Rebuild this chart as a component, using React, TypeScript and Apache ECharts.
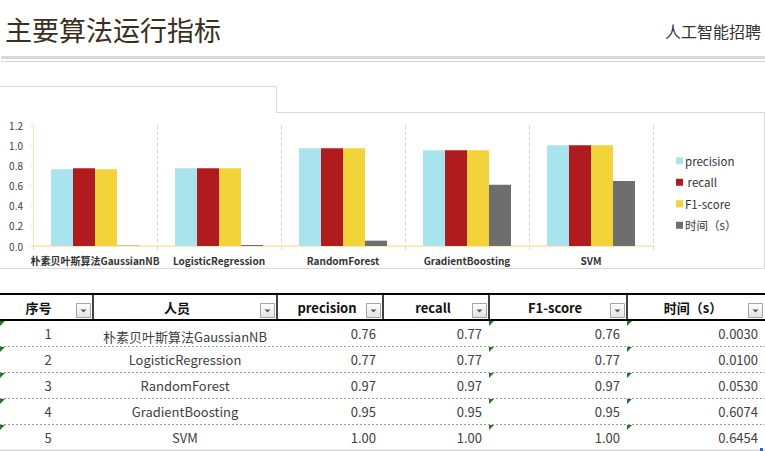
import React, { useEffect, useRef } from "react";
import * as echarts from "echarts";

const algorithms = [
  "朴素贝叶斯算法GaussianNB",
  "LogisticRegression",
  "RandomForest",
  "GradientBoosting",
  "SVM",
];
const precision = [0.76, 0.77, 0.97, 0.95, 1.0];
const recall = [0.77, 0.77, 0.97, 0.95, 1.0];
const f1Score = [0.76, 0.77, 0.97, 0.95, 1.0];
const timeSec = [0.003, 0.01, 0.053, 0.6074, 0.6454];
const seriesNames = ["precision", "recall", "F1-score", "时间（s）"];
const seriesColors = ["#a9e3ee", "#b01b1f", "#f2d33a", "#6e6e6e"];
const tableHeaders = ["序号", "人员", "precision", "recall", "F1-score", "时间（s）"];

const FONT = "'Noto Sans CJK SC', 'Noto Sans', sans-serif";

// table layout
const colEdges = [0, 93, 277, 383, 489, 627, 765];
const headTop = 294;
const headBottom = 320;
const rowH = 26;

const txt = (
  text: string,
  x: number,
  y: number,
  size: number,
  color: string,
  align: string,
  weight: string = "normal"
) => ({
  type: "text",
  x,
  y,
  silent: true,
  style: {
    text,
    fill: color,
    fontSize: size,
    fontFamily: FONT,
    fontWeight: weight,
    align,
    textAlign: align,
    verticalAlign: "middle",
    textVerticalAlign: "middle",
  },
});

const buildTable = () => {
  const els: any[] = [];
  // header borders
  els.push({ type: "line", shape: { x1: 0, y1: headTop, x2: 765, y2: headTop }, style: { stroke: "#000", lineWidth: 2 } });
  els.push({ type: "line", shape: { x1: 0, y1: headBottom, x2: 765, y2: headBottom }, style: { stroke: "#000", lineWidth: 2 } });
  colEdges.slice(1, -1).forEach((x) => {
    els.push({ type: "line", shape: { x1: x, y1: headTop, x2: x, y2: headBottom }, style: { stroke: "#000", lineWidth: 1.5 } });
  });
  tableHeaders.forEach((h, i) => {
    const l = colEdges[i];
    const r = colEdges[i + 1];
    const cx = i < 2 ? (l + r - 16) / 2 : (l + r - 18) / 2 + 6;
    els.push(txt(h, cx, 307, 13, "#111", "center", "bold"));
    // dropdown button
    els.push({
      type: "rect",
      shape: { x: r - 16.5, y: 303.5, width: 14, height: 14 },
      style: {
        fill: new echarts.graphic.LinearGradient(0, 0, 0, 1, [
          { offset: 0, color: "#ffffff" },
          { offset: 1, color: "#e3e3e3" },
        ]),
        stroke: "#a6a6a6",
        lineWidth: 1,
      },
    });
    const bx = r - 9.5;
    els.push({
      type: "polygon",
      shape: { points: [[bx - 3, 309.5], [bx + 3, 309.5], [bx, 312.5]] },
      style: { fill: "#595959" },
    });
  });
  // rows
  algorithms.forEach((name, i) => {
    const top = headBottom + i * rowH;
    const cy = top + 13;
    const cells = [
      String(i + 1),
      name,
      precision[i].toFixed(2),
      recall[i].toFixed(2),
      f1Score[i].toFixed(2),
      timeSec[i].toFixed(4),
    ];
    cells.forEach((c, j) => {
      const r = colEdges[j + 1];
      if (j === 0) els.push(txt(c, 48, cy, 13, "#404040", "center"));
      else if (j === 1) els.push(txt(c, 185, cy + (i === 0 ? 3 : 0), 13, "#404040", "center"));
      else els.push(txt(c, r - 7, cy, 13, "#404040", "right"));
    });
    if (i > 0) {
      els.push({
        type: "line",
        shape: { x1: 0, y1: top + 0.5, x2: 765, y2: top + 0.5 },
        style: { stroke: "#9a9a9a", lineWidth: 1, lineDash: [2, 2] },
      });
    }
    [0, 489, 627].forEach((x) => {
      els.push({
        type: "polygon",
        shape: { points: [[x, top + 1], [x + 5, top + 1], [x, top + 6]] },
        style: { fill: "#1f7a1f" },
      });
    });
  });
  const bottom = headBottom + algorithms.length * rowH;
  els.push({ type: "line", shape: { x1: 0, y1: bottom + 0.5, x2: 765, y2: bottom + 0.5 }, style: { stroke: "#d4d4d4", lineWidth: 1.5 } });
  els.push({ type: "rect", shape: { x: 760, y: bottom - 2, width: 3, height: 3 }, style: { fill: "#3b5fc0" } });
  return els;
};

const App: React.FC = () => {
  const chartRef = useRef<HTMLDivElement>(null);

  useEffect(() => {
    const chart = echarts.init(chartRef.current!, undefined, { renderer: "svg" });
    const values = [precision, recall, f1Score, timeSec];

    const option: any = {
      animation: false,
      backgroundColor: "#ffffff",
      textStyle: { fontFamily: FONT },
      legend: {
        orient: "vertical",
        left: 671,
        top: 150,
        itemWidth: 7,
        itemHeight: 7,
        itemGap: 10,
        icon: "rect",
        textStyle: { fontSize: 11.5, color: "#333", padding: [0, 0, 0, -3] },
        formatter: (name: string) => (name === "recall" ? " recall" : name),
        data: seriesNames,
      },
      grid: { left: 33, right: 112, top: 125, bottom: 205, containLabel: false },
      xAxis: {
        type: "category",
        data: algorithms,
        axisLine: { lineStyle: { color: "#fcebb8", width: 2 } },
        axisTick: { show: true, length: 5, lineStyle: { color: "#d9d9d9", type: "dashed" } },
        splitLine: { show: true, lineStyle: { color: "#d9d9d9", type: "dashed" } },
        axisLabel: {
          interval: 0,
          fontSize: 10,
          fontWeight: "bold",
          color: "#333",
          margin: 9,
        },
      },
      yAxis: {
        type: "value",
        min: 0,
        max: 1.2,
        interval: 0.2,
        axisLine: { show: true, lineStyle: { color: "#fcebb8", type: "dashed" } },
        axisTick: { show: true, length: 3, lineStyle: { color: "#fcebb8" } },
        splitLine: { show: false },
        axisLabel: {
          fontSize: 10,
          color: "#404040",
          margin: 10,
          formatter: (v: number) => v.toFixed(1),
        },
      },
      series: seriesNames.map((name, i) => ({
        name,
        type: "bar",
        data: values[i],
        barWidth: 22,
        barGap: "0%",
        itemStyle: { color: seriesColors[i] },
      })),
      graphic: [
        txt("主要算法运行指标", 5, 29, 27, "#3a3020", "left"),
        txt("人工智能招聘", 761, 31, 16, "#333", "right"),
        { type: "rect", shape: { x: 1, y: 56, width: 764, height: 3 }, style: { fill: "#d9d9d9" } },
        { type: "line", shape: { x1: 1, y1: 61.5, x2: 765, y2: 61.5 }, style: { stroke: "#d9d9d9", lineWidth: 1 } },
        {
          type: "polyline",
          shape: { points: [[0, 86.5], [276.5, 86.5], [276.5, 112.5], [764.5, 112.5], [764.5, 268.5], [0, 268.5]] },
          style: { stroke: "#d9d9d9", lineWidth: 1, fill: "none" },
        },
        ...buildTable(),
      ],
    };

    chart.setOption(option);
    return () => {
      chart.dispose();
    };
  }, []);

  return (
    <div
      ref={chartRef}
      style={{ position: "absolute", left: 0, top: 0, width: "765px", height: "451px" }}
    />
  );
};

export default App;
